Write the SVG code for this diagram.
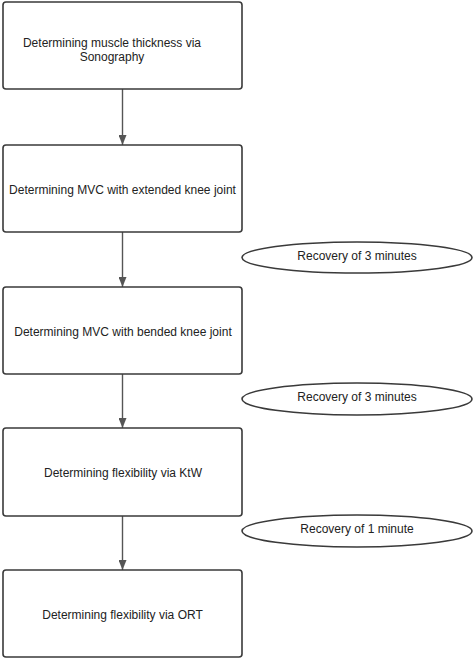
<svg xmlns="http://www.w3.org/2000/svg" width="474" height="660" viewBox="0 0 474 660">
<defs>
<style>
.box{fill:#fff;stroke:#3a3a3a;stroke-width:1.6}
.ell{fill:#fff;stroke:#3a3a3a;stroke-width:1.6}
.t{font-family:"Liberation Sans",Arial,sans-serif;font-size:12px;fill:#222;text-anchor:middle}
.c{stroke:#555;stroke-width:1.4;fill:none}
</style>
<marker id="ah" markerWidth="10" markerHeight="8" refX="10" refY="4" orient="auto" markerUnits="userSpaceOnUse" viewBox="0 0 10 8">
<path d="M0,0 L10,4 L0,8 Z" fill="#555"/>
</marker>
</defs>
<rect width="474" height="660" fill="#fff"/>
<g id="connectors">
<line class="c" x1="122.5" y1="89" x2="122.5" y2="145" marker-end="url(#ah)"/>
<line class="c" x1="122.5" y1="232" x2="122.5" y2="287" marker-end="url(#ah)"/>
<line class="c" x1="122.5" y1="374" x2="122.5" y2="428" marker-end="url(#ah)"/>
<line class="c" x1="122.5" y1="516" x2="122.5" y2="570" marker-end="url(#ah)"/>
</g>
<g id="n1"><rect class="box" x="3" y="2" width="239" height="87" rx="3"/>
<text class="t" x="112" y="47">Determining muscle thickness via</text>
<text class="t" x="112" y="61">Sonography</text></g>
<g id="n2"><rect class="box" x="3" y="145" width="239" height="87" rx="3"/>
<text class="t" x="122.5" y="194">Determining MVC with extended knee joint</text></g>
<g id="n3"><rect class="box" x="3" y="287" width="239" height="87" rx="3"/>
<text class="t" x="123" y="336">Determining MVC with bended knee joint</text></g>
<g id="n4"><rect class="box" x="3" y="428" width="239" height="88" rx="3"/>
<text class="t" x="123" y="477">Determining flexibility via KtW</text></g>
<g id="n5"><rect class="box" x="3" y="570" width="239" height="87" rx="3"/>
<text class="t" x="122.5" y="619">Determining flexibility via ORT</text></g>
<g id="e1"><ellipse class="ell" cx="357" cy="257.5" rx="115" ry="15.5"/>
<text class="t" x="357" y="259.5">Recovery of 3 minutes</text></g>
<g id="e2"><ellipse class="ell" cx="357" cy="399" rx="115" ry="16"/>
<text class="t" x="357" y="401">Recovery of 3 minutes</text></g>
<g id="e3"><ellipse class="ell" cx="357" cy="531" rx="115" ry="16"/>
<text class="t" x="357" y="532.5">Recovery of 1 minute</text></g>
</svg>
